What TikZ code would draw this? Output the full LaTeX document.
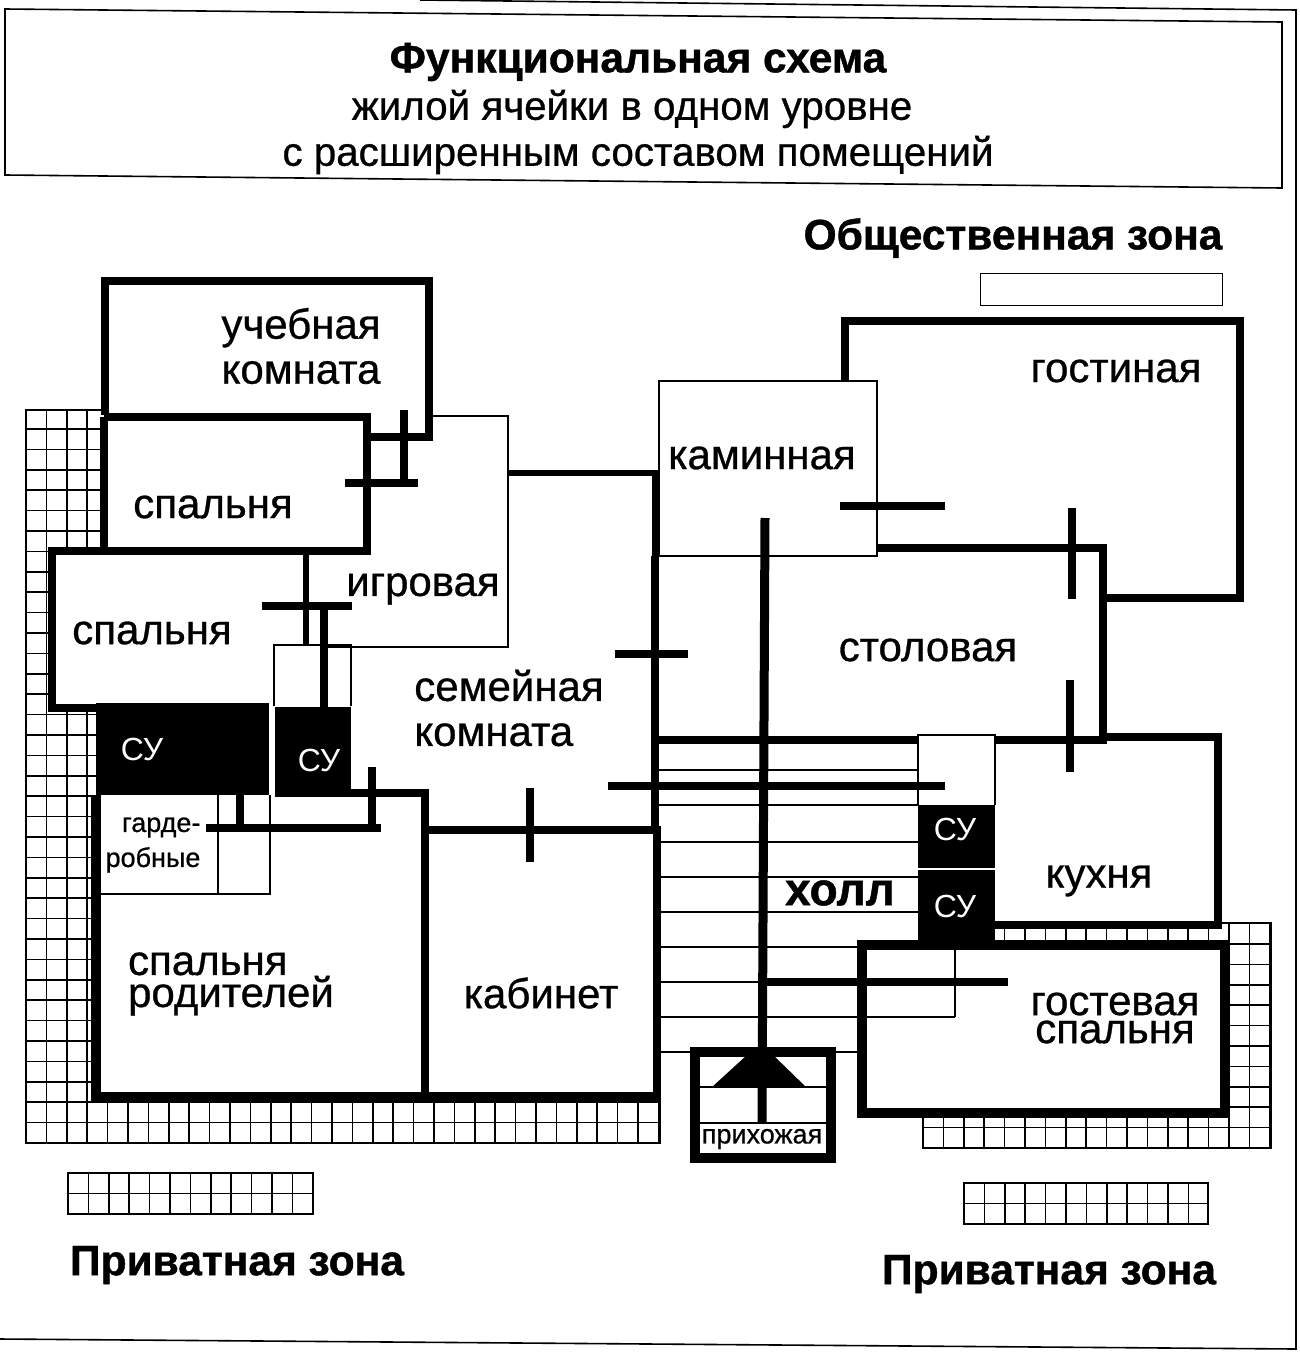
\documentclass[tikz,border=0pt]{standalone}
\usepackage{fontspec}
\setmainfont{Liberation Sans}
\newfontfamily\scanfont[FakeBold=0.7]{Liberation Sans}
\newfontfamily\heavyfont[BoldFeatures={FakeBold=1}]{Liberation Sans}
\tikzset{
  wall/.style={line width=7.5pt},
  heavywall/.style={line width=9.5pt},
  innerwall/.style={line width=5.5pt},
  doorbar/.style={line width=8pt},
  thinline/.style={line width=1.6pt},
  zonegrid/.style={line width=1.6pt,step=20.4},
  room/.style={inner sep=0pt,font=\scanfont\fontsize{42}{42}\selectfont},
  subtitle/.style={inner sep=0pt,font=\scanfont\fontsize{40.3}{40}\selectfont},
  smallroom/.style={inner sep=0pt,font=\scanfont\fontsize{27}{27}\selectfont},
  zonetitle/.style={inner sep=0pt,font=\heavyfont\bfseries\fontsize{42.5}{42}\selectfont},
  wcbox/.style={inner sep=0pt,text=white,font=\fontsize{32}{32}\selectfont},
}
\begin{document}
\begin{tikzpicture}[x=1pt,y=-1pt]
  \useasboundingbox (0,0) rectangle (1300,1360);

  % page and title frame
  \draw[thinline] (420,0) -- (1296,10) -- (1296,1349) -- (0,1339);
  \draw[thinline] (5,9) -- (1282,22) -- (1282,188) -- (5,175) -- cycle;
  \node[zonetitle] (title) at (638,62) {Функциональная схема};
  \node[subtitle] (subtitlea) at (632,109) {жилой ячейки в одном уровне};
  \node[subtitle] (subtitleb) at (638,155) {с расширенным составом помещений};

  % zones
  \begin{scope}[shift={(26,1143)},y=1pt]
    \draw[zonegrid] (0,0) grid (634,733);
    \draw[thinline] (0,0) rectangle (634,733);
  \end{scope}
  \begin{scope}[shift={(923,1148)},y=1pt]
    \draw[zonegrid] (0,0) grid (348,225);
    \draw[thinline] (0,0) rectangle (348,225);
  \end{scope}
  \fill[white] (105,405) rectangle (665,1097);
  \fill[white] (52,551) rectangle (105,708);
  \fill[white] (96,795) rectangle (105,1097);
  \fill[white] (862,945) rectangle (1225,1113);

  % legend
  \begin{scope}[shift={(68,1214)},y=1pt]
    \draw[zonegrid] (0,0) grid (245,41);
    \draw[thinline] (0,0) rectangle (245,41);
  \end{scope}
  \begin{scope}[shift={(964,1224)},y=1pt]
    \draw[zonegrid] (0,0) grid (244,41);
    \draw[thinline] (0,0) rectangle (244,41);
  \end{scope}
  \draw[line width=1pt] (980,273) rectangle (1222,305);

  % hall
  \foreach \y in {770,805,842,877,912,947}
    \draw[thinline] (655,\y) -- (918,\y);
  \draw[thinline] (660,982) -- (862,982);
  \draw[thinline] (660,1017) -- (955,1017);
  \draw[thinline] (660,1052) -- (862,1052);
  \draw[thinline] (955,947) -- (955,1017);

  % thin boxes
  \draw[thinline] (429,416) -- (508,416) -- (508,647) -- (324,647);
  \draw[thinline] (274,706) -- (274,645) -- (351,645) -- (351,706);
  \draw[thinline] (659,556) -- (659,381) -- (877,381) -- (877,556) -- cycle;
  \draw[thinline] (918,805) -- (918,735) -- (995,735) -- (995,805);
  \draw[thinline] (100,894) -- (270,894) -- (270,795);
  \draw[thinline] (218,795) -- (218,894);

  % walls
  \draw[wall] (105,415) -- (105,281) -- (429,281) -- (429,437) -- (368,437);
  \draw[wall] (104,417) -- (367,417) -- (367,551) -- (52,551) -- (52,708) -- (97,708);
  \draw[wall] (104,417) -- (104,551);
  \draw[innerwall] (306,551) -- (306,645);
  \draw[innerwall] (507,473) -- (655,473) -- (655,556);
  \draw[wall] (655,556) -- (655,830);
  \draw[heavywall] (96,795) -- (96,1097) -- (661,1097);
  \draw[wall] (657,1097) -- (657,830) -- (425,830);
  \draw[wall] (351,793) -- (425,793) -- (425,1097);
  \draw[wall] (845,381) -- (845,321) -- (1240,321) -- (1240,598) -- (1103,598);
  \draw[wall] (877,548) -- (1103,548) -- (1103,740) -- (995,740);
  \draw[wall] (655,740) -- (918,740);
  \draw[wall] (1103,737) -- (1218,737) -- (1218,925) -- (995,925);
  \draw[heavywall] (862,945) rectangle (1225,1113);
  \draw[heavywall] (695,1052) rectangle (831,1158);

  % doors
  \draw[doorbar] (404,410) -- (404,483);
  \draw[doorbar] (345,483) -- (418,483);
  \draw[doorbar] (262,606) -- (352,606);
  \draw[doorbar] (324,606) -- (324,708);
  \draw[doorbar] (240,795) -- (240,828);
  \draw[doorbar] (206,828) -- (381,828);
  \draw[doorbar] (372,767) -- (372,828);
  \draw[doorbar] (530,788) -- (530,862);
  \draw[doorbar] (615,654) -- (688,654);
  \draw[doorbar] (840,506) -- (945,506);
  \draw[doorbar] (1072,508) -- (1072,599);
  \draw[doorbar] (1070,680) -- (1070,772);
  \draw[doorbar] (608,786) -- (945,786);
  \draw[doorbar] (763,982) -- (1008,982);
  \draw[line width=9pt] (765,518) -- (762,1122);

  % entrance
  \fill (747,1055) -- (773,1055) -- (806,1087) -- (712,1087) -- cycle;
  \draw[thinline] (699,1087) -- (827,1087);
  \draw[thinline] (699,1123) -- (827,1123);

  % wet rooms
  \fill (96,703) rectangle (269,795);
  \fill (275,707) rectangle (351,797);
  \fill (918,805) rectangle (995,868);
  \fill (918,870) rectangle (995,945);
  \node[wcbox] (wca) at (142,749) {СУ};
  \node[wcbox] (wcb) at (319,760) {СУ};
  \node[wcbox] (wcc) at (955,829) {СУ};
  \node[wcbox] (wcd) at (955,906) {СУ};

  % labels
  \node[room,align=center] (study) at (301,346) {учебная\\[3pt]комната};
  \node[room] (bedrooma) at (213,507) {спальня};
  \node[room] (bedroomb) at (152,633) {спальня};
  \node[room] (playroom) at (423,589) {игровая};
  \node[room,align=left] (family) at (509,708) {семейная\\[3pt]комната};
  \node[smallroom,align=right] (wardrobe) at (153,845) {гарде-\\[8pt]робные};
  \node[room,align=left] (parents) at (231,984) {спальня\\[-10pt]родителей};
  \node[room] (office) at (541,993) {кабинет};
  \node[room] (fireplace) at (762,458) {каминная};
  \node[room] (living) at (1116,371) {гостиная};
  \node[room] (dining) at (928,650) {столовая};
  \node[room] (kitchen) at (1099,881) {кухня};
  \node[zonetitle,font=\heavyfont\bfseries\fontsize{46}{46}\selectfont] (hall) at (840,893) {холл};
  \node[room,align=center] (guest) at (1115,1018) {гостевая\\[-14pt]спальня};
  \node[smallroom] (entry) at (762,1139) {прихожая};

  \node[zonetitle] (publiczone) at (1013,238) {Общественная зона};
  \node[zonetitle] (privatezonea) at (237,1265) {Приватная зона};
  \node[zonetitle] (privatezoneb) at (1049,1274) {Приватная зона};
\end{tikzpicture}
\end{document}
